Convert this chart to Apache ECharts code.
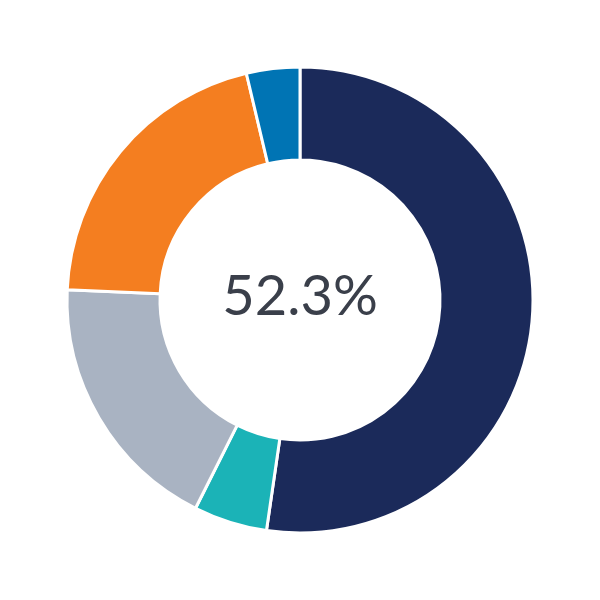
<!DOCTYPE html>
<html><head><meta charset="utf-8">
<script src="https://cdn.jsdelivr.net/npm/echarts@6/dist/echarts.min.js"></script>
<style>html,body{margin:0;padding:0;background:#fff}#c{width:600px;height:600px}</style>
</head><body><div id="c"></div>
<script>
const categories = ['A', 'B', 'C', 'D', 'E'];
const values = [52.3, 5.1, 18.3, 20.6, 3.7];
const colors = ['#1b2a5a', '#1bb3b7', '#a9b3c2', '#f47e20', '#0074b4'];
const centerLabel = '52.3%';

const chart = echarts.init(document.getElementById('c'), null, {renderer: 'canvas'});
chart.setOption({
  animation: false,
  series: [{
    type: 'pie',
    center: ['50%', '50%'],
    radius: [140, 233],
    startAngle: 90,
    clockwise: true,
    label: {show: false},
    labelLine: {show: false},
    itemStyle: {borderColor: '#fff', borderWidth: 3},
    emphasis: {disabled: true},
    data: categories.map((c, i) => ({name: c, value: values[i], itemStyle: {color: colors[i]}}))
  }],
  graphic: [{
    type: 'text', left: 'center', top: 269,
    style: {text: centerLabel, font: 'normal 56px Lato', fill: '#3a3f4a'}
  }]
});
</script></body></html>
